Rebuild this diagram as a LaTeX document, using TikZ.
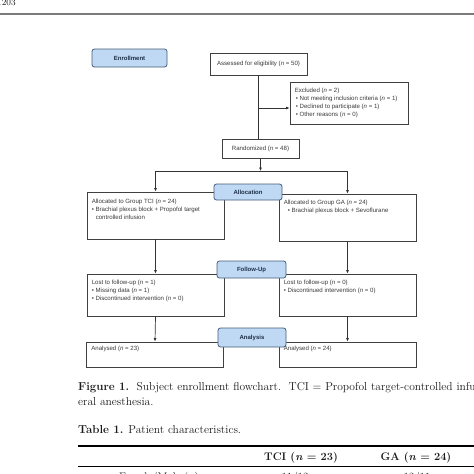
\documentclass[tikz,border=0pt]{standalone}
\usepackage{fontspec}
\newfontfamily\flowfont{Liberation Sans}
\usetikzlibrary{arrows.meta}
\definecolor{ink}{HTML}{1A1A1A}
\definecolor{flowtext}{HTML}{3A3A3A}
\definecolor{boxline}{HTML}{404040}
\definecolor{flowline}{HTML}{333333}
\definecolor{stagefill}{HTML}{BFD8F4}
\definecolor{stageline}{HTML}{445C78}
\definecolor{stagetext}{HTML}{1E2F45}
\definecolor{headrule}{HTML}{7A7A7A}

\begin{document}
\begin{tikzpicture}[
  x=1pt, y=-1pt,
  text=ink,
  box/.style={
    draw=boxline,
    line width=0.8pt,
    fill=white,
    inner sep=0pt
  },
  stage/.style={
    draw=stageline,
    line width=0.8pt,
    fill=stagefill,
    rounded corners=2.5pt,
    inner sep=0pt,
    text=stagetext,
    font=\flowfont\fontsize{6}{7}\selectfont\bfseries
  },
  boxtext/.style={
    font=\flowfont\fontsize{6.1}{8}\selectfont,
    text=flowtext,
    align=left,
    inner sep=0pt,
    anchor=north west
  },
  arrow/.style={-{Latex[length=3.5pt,width=3pt]}, draw=flowline, line width=0.7pt},
  link/.style={draw=flowline, line width=0.7pt},
  pagetext/.style={inner sep=0pt, anchor=base west, align=left}
]
\useasboundingbox (0,0) rectangle (474,474);
\clip (0,0) rectangle (474,474);

% Running head
\node[pagetext, font=\fontsize{9}{10}\selectfont] (pagehead) at (-3,5) {1203};
\draw[draw=headrule, line width=1.2pt] (0,14) -- (474,14);

% Enrollment and eligibility
\node[box, minimum width=97pt, minimum height=22pt, font=\flowfont\fontsize{6.1}{8}\selectfont, text=flowtext] (assessed) at (258.5,64) {Assessed for eligibility (\textit{n} = 50)};
\node[box, minimum width=118pt, minimum height=42pt] (excluded) at (349,103) {};
\node[boxtext] (excludedtxt) at ([xshift=5pt,yshift=-6pt]excluded.north west) {Excluded (\textit{n} = 2)\\
  \,\textbullet\ Not meeting inclusion criteria (\textit{n} = 1)\\
  \,\textbullet\ Declined to participate (\textit{n} = 1)\\
  \,\textbullet\ Other reasons (\textit{n} = 0)};
\node[box, minimum width=77pt, minimum height=19pt, font=\flowfont\fontsize{6.1}{8}\selectfont, text=flowtext] (randomized) at (260.5,148.5) {Randomized (\textit{n} = 48)};

\coordinate (branch) at (258.5,108);
\coordinate (split) at (258.5,171);
\draw[link] (assessed.south) -- (assessed.south |- randomized.north);
\draw[arrow] (branch) -- (branch -| excluded.west);

% Allocation
\node[box, minimum width=137pt, minimum height=47pt] (alloctci) at (155.5,215.5) {};
\node[boxtext] (alloctcitxt) at ([xshift=5pt,yshift=-7pt]alloctci.north west) {Allocated to Group TCI (\textit{n} = 24)\\
  \textbullet\ Brachial plexus block + Propofol target\\
  \hspace{4pt}controlled infusion};
\node[box, minimum width=137pt, minimum height=47pt] (allocga) at (347.5,217.5) {};
\node[boxtext] (allocgatxt) at ([xshift=5pt,yshift=-6pt]allocga.north west) {Allocated to Group GA (\textit{n} = 24)\\
  \hspace{4pt}\textbullet\ Brachial plexus block + Sevoflurane};

\draw[arrow] (randomized.south) -- (randomized.south |- split);
\draw[link] (alloctci.north |- split) -- (allocga.north |- split);
\draw[arrow] (alloctci.north |- split) -- (alloctci.north);
\draw[arrow] (allocga.north |- split) -- (allocga.north);

% Follow-up
\node[box, minimum width=137pt, minimum height=42pt] (losttci) at (155.5,295) {};
\node[boxtext] (losttcitxt) at ([xshift=5pt,yshift=-6pt]losttci.north west) {Lost to follow-up (\textit{n} = 1)\\
  \textbullet\ Missing data (\textit{n} = 1)\\
  \textbullet\ Discontinued intervention (\textit{n} = 0)};
\node[box, minimum width=137pt, minimum height=42pt] (lostga) at (347.5,295) {};
\node[boxtext] (lostgatxt) at ([xshift=5pt,yshift=-6pt]lostga.north west) {Lost to follow-up (\textit{n} = 0)\\
  \textbullet\ Discontinued intervention (\textit{n} = 0)};

\draw[arrow] (alloctci.south) -- (losttci.north);
\draw[arrow] (allocga.south) -- (lostga.north);

% Analysis
\node[box, minimum width=137pt, minimum height=25pt] (anatci) at (155,354.5) {};
\node[boxtext] (anatcitxt) at ([xshift=5pt,yshift=-4pt]anatci.north west) {Analysed (\textit{n} = 23)};
\node[box, minimum width=137pt, minimum height=25pt] (anaga) at (347.5,354.5) {};
\node[boxtext] (anagatxt) at ([xshift=5pt,yshift=-4pt]anaga.north west) {Analysed (\textit{n} = 24)};

\draw[arrow] (losttci.south) -- (anatci.north);
\draw[arrow] (lostga.south) -- (anaga.north);

% Stage labels
\node[stage, minimum width=75pt, minimum height=18pt] (enrollment) at (129.5,58) {Enrollment};
\node[stage, minimum width=68pt, minimum height=16pt] (allocation) at (248,192) {Allocation};
\node[stage, minimum width=69pt, minimum height=17pt] (followup) at (251.5,269.5) {Follow-Up};
\node[stage, minimum width=68pt, minimum height=19pt] (analysis) at (252,337.5) {Analysis};

% Caption and table
\node[pagetext, font=\fontsize{11.5}{15}\selectfont] (caption) at (78,405) {\textbf{Figure 1.}\ \ Subject enrollment flowchart.\ \ TCI = Propofol target-controlled infusion; GA = gen-\\eral anesthesia.};
\node[pagetext, font=\fontsize{11.5}{15}\selectfont] (tabletitle) at (78,433) {\textbf{Table 1.} Patient characteristics.};
\draw[line width=1.6pt] (78,446) -- (480,446);
\node[inner sep=0pt, anchor=base, font=\fontsize{11}{13}\selectfont\bfseries] (tcihead) at (301,460) {TCI (\textit{n} = 23)};
\node[inner sep=0pt, anchor=base, font=\fontsize{11}{13}\selectfont\bfseries] (gahead) at (416,460) {GA (\textit{n} = 24)};
\draw[line width=0.6pt] (78,466) -- (480,466);
\node[inner sep=0pt, anchor=base, font=\fontsize{11}{13}\selectfont] (sexrow) at (159,480) {Female/Male (\textit{n})};
\node[inner sep=0pt, anchor=base, font=\fontsize{11}{13}\selectfont] (sextci) at (295,480) {11/12};
\node[inner sep=0pt, anchor=base, font=\fontsize{11}{13}\selectfont] (sexga) at (417,480) {12/11};

\end{tikzpicture}
\end{document}
